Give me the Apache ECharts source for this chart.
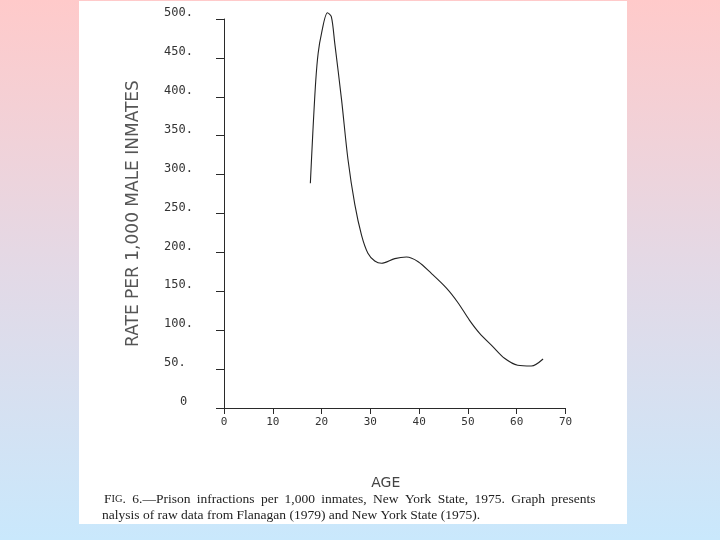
<!DOCTYPE html>
<html>
<head>
<meta charset="utf-8">
<script src="https://cdn.jsdelivr.net/npm/echarts@6/dist/echarts.min.js"></script>
<style>
  html, body {
    margin: 0;
    padding: 0;
    width: 720px;
    height: 540px;
    background: linear-gradient(to bottom, #ffcaca 0%, #e3d9e6 50%, #c9e8fc 100%);
  }
  #chart {
    width: 720px;
    height: 540px;
  }
</style>
</head>
<body>
<div id="chart"></div>
<script>
const ages = [17.7, 18.2, 18.8, 19.3, 20.0, 21.2, 22.0, 22.7, 24.1, 25.4, 26.8, 28.2, 29.5, 30.9, 32.3, 35.0, 37.4, 39.8, 42.5, 45.6, 48.0, 50.3, 52.4, 55.1, 57.5, 60.2, 63.0, 65.4]
const rates = [289, 353, 420, 456, 482, 508, 503, 469, 396, 320, 262, 222, 199, 189, 186, 192, 194, 188, 173, 154, 135, 113, 96, 79, 64, 55, 54, 63]
const xTicks = [0, 10, 20, 30, 40, 50, 60, 70]
const yTicks = [0, 50, 100, 150, 200, 250, 300, 350, 400, 450, 500]

const captionLine1 = 'F{small|IG}. 6.—Prison infractions per 1,000 inmates, New York State, 1975. Graph presents'
const captionLine2 = 'nalysis of raw data from Flanagan (1979) and New York State (1975).'

const chart = echarts.init(document.getElementById('chart'))

const monoFont = 'DejaVu Sans Mono'
const serifFont = 'Liberation Serif'
const inkColor = '#2a2a2a'

// first caption line is justified in the print, so widen its spaces a little
const justify = (s) => s.replace(/ /g, '{sp| }')

chart.setOption({
  backgroundColor: 'transparent',
  animation: false,
  graphic: [
    {
      type: 'rect',
      z: -10,
      silent: true,
      shape: { x: 79, y: 1, width: 548, height: 523 },
      style: { fill: '#ffffff' }
    },
    {
      type: 'text',
      left: 104,
      top: 492,
      style: {
        text: justify(captionLine1),
        fill: '#222',
        font: '13.5px "Liberation Serif"',
        rich: {
          small: { fontSize: 10.5, fontFamily: serifFont, fill: '#222' },
          sp: { fontSize: 13.5, fontFamily: serifFont, fill: '#222', padding: [0, 1.5, 0, 1.5] }
        }
      }
    },
    {
      type: 'text',
      left: 102,
      top: 508,
      style: {
        text: captionLine2,
        fill: '#222',
        font: '13.5px "Liberation Serif"'
      }
    }
  ],
  grid: {
    left: 224,
    right: 154.5,
    top: 19,
    bottom: 132
  },
  xAxis: {
    type: 'value',
    min: xTicks[0],
    max: xTicks[xTicks.length - 1],
    interval: 10,
    name: 'AGE',
    nameLocation: 'middle',
    nameGap: 68,
    nameTextStyle: {
      fontFamily: 'DejaVu Sans',
      fontSize: 14,
      color: '#444',
      padding: [0, 18, 0, 0]
    },
    axisLine: { lineStyle: { color: inkColor, width: 1 } },
    axisTick: { length: 6, lineStyle: { color: inkColor } },
    axisLabel: {
      fontFamily: monoFont,
      fontSize: 11,
      color: '#333',
      margin: 9
    },
    splitLine: { show: false }
  },
  yAxis: {
    type: 'value',
    min: yTicks[0],
    max: yTicks[yTicks.length - 1],
    interval: 50,
    name: 'RATE PER 1,000 MALE INMATES',
    nameLocation: 'middle',
    nameRotate: 90,
    nameGap: 82,
    nameTextStyle: {
      fontFamily: 'DejaVu Sans',
      fontSize: 17,
      color: '#555'
    },
    axisLine: { show: true, lineStyle: { color: inkColor, width: 1 } },
    axisTick: { show: true, length: 8, lineStyle: { color: inkColor } },
    axisLabel: {
      fontFamily: monoFont,
      fontSize: 12,
      color: '#333',
      align: 'left',
      verticalAlign: 'bottom',
      margin: 60,
      formatter: (v) => (v === 0 ? '{zero|0}' : v + '.'),
      rich: {
        zero: { fontFamily: monoFont, fontSize: 12, color: '#333', padding: [0, 0, 0, 16] }
      }
    },
    splitLine: { show: false }
  },
  series: [
    {
      type: 'line',
      data: ages.map((a, i) => [a, rates[i]]),
      smooth: 0.3,
      clip: false,
      symbol: 'none',
      lineStyle: { color: '#222', width: 1.1 }
    }
  ]
})
</script>
</body>
</html>
